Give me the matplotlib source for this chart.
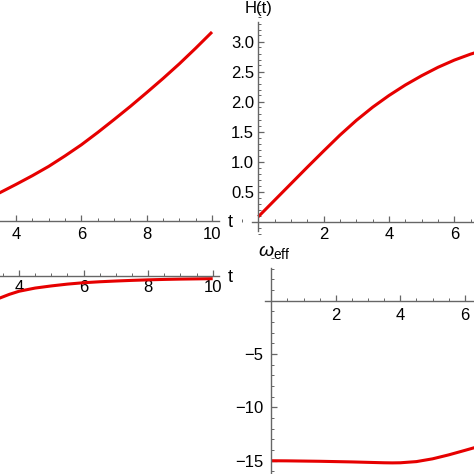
import matplotlib
matplotlib.use("Agg")
import matplotlib.pyplot as plt
from matplotlib.ticker import MultipleLocator, FixedLocator

plt.rcParams['font.family'] = ['Liberation Sans', 'DejaVu Sans']
plt.rcParams['mathtext.fontset'] = 'custom'
plt.rcParams['mathtext.rm'] = 'Liberation Sans'
plt.rcParams['mathtext.it'] = 'Liberation Sans:italic'
plt.rcParams['axes.unicode_minus'] = True

# ---- data ----
t_a = [3.3, 3.5, 4, 4.5, 5, 5.5, 6, 6.5, 7, 7.5, 8, 8.5, 9, 9.5, 10]
a_vals = [0.42, 0.47, 0.61, 0.755, 0.91, 1.085, 1.27, 1.475, 1.69, 1.91,
          2.14, 2.375, 2.62, 2.88, 3.15]

t_H = [0, 0.5, 1, 1.5, 2, 2.5, 3, 3.5, 4, 4.5, 5, 5.5, 6, 6.5, 6.8]
H_vals = [0.08, 0.355, 0.63, 0.905, 1.175, 1.44, 1.685, 1.905, 2.10, 2.275,
          2.43, 2.57, 2.69, 2.79, 2.84]

t_q = [3.2, 3.41, 3.7, 4, 4.5, 5, 5.5, 6, 6.5, 7, 7.5, 8, 8.5, 9, 9.5, 10]
q_vals = [-2.3, -2.06, -1.72, -1.43, -1.13, -0.93, -0.76, -0.63, -0.54,
          -0.47, -0.41, -0.36, -0.32, -0.29, -0.27, -0.25]

t_w = [0, 0.5, 1, 1.5, 2, 2.5, 3, 3.5, 3.75, 4, 4.5, 5, 5.5, 6, 6.5]
w_vals = [-15.0, -15.01, -15.03, -15.05, -15.08, -15.11, -15.15, -15.19,
          -15.2, -15.19, -15.08, -14.82, -14.45, -14.03, -13.6]

x_major = [2, 4, 6, 8, 10]

RED = '#e60000'
AXC = '#666666'
FS = 12
W = H = 474.0

fig = plt.figure(figsize=(4.74, 4.74), dpi=100)


def make_ax(L, R, T, B, x0, sx, y0, sy):
    ax = fig.add_axes([L / W, 1 - B / H, (R - L) / W, (B - T) / H])
    ax.set_facecolor('none')
    ax.set_xlim((L - x0) / sx, (R - x0) / sx)
    ax.set_ylim((y0 - B) / sy, (y0 - T) / sy)
    for s in ('top', 'right'):
        ax.spines[s].set_visible(False)
    for s in ('left', 'bottom'):
        ax.spines[s].set_position(('data', 0))
        ax.spines[s].set_color(AXC)
        ax.spines[s].set_linewidth(1.0)
    ax.tick_params(which='both', direction='in', color=AXC, labelsize=FS)
    ax.tick_params(which='major', length=4, width=0.9)
    ax.tick_params(which='minor', length=2.3, width=0.7)
    ax.xaxis.set_major_locator(FixedLocator(x_major))
    ax.xaxis.set_minor_locator(MultipleLocator(0.5))
    return ax


# top-left
ax1 = make_ax(0, 226, 0, 236, 16 - 4 * 32.67, 32.67, 221, 60)
ax1.plot(t_a, a_vals, color=RED, lw=2.2, solid_capstyle='butt')
ax1.spines['bottom'].set_bounds(-0.2, 10.2)
ax1.spines['left'].set_visible(False)
ax1.set_yticks([])
ax1.tick_params(axis='x', pad=4)
fig.text(228 / W, 1 - 222 / H, 't', fontsize=FS + 1, ha='left', va='center')

# top-right
ax2 = make_ax(240, 474, 0, 236, 258.3, 32.67, 221.5, 60)
ax2.plot(t_H, H_vals, color=RED, lw=2.2, solid_capstyle='butt')
ax2.spines['bottom'].set_bounds(-0.2, 10.2)
ax2.spines['left'].set_bounds(-0.15, 3.33)
ax2.yaxis.set_major_locator(FixedLocator([0.5, 1.0, 1.5, 2.0, 2.5, 3.0]))
ax2.yaxis.set_minor_locator(MultipleLocator(0.1))
ax2.yaxis.set_major_formatter(plt.FuncFormatter(lambda v, p: f'{v:.1f}'))
ax2.tick_params(axis='x', pad=4)
ax2.tick_params(axis='y', pad=3)
fig.text(245 / W, 1 - 12.5 / H, 'H(t)', fontsize=FS, ha='left', va='baseline')

# bottom-left
ax3 = make_ax(0, 226, 240, 474, 212.7 - 10 * 32.28, 32.28, 276, 10.67)
ax3.plot(t_q, q_vals, color=RED, lw=2.2, solid_capstyle='butt')
ax3.spines['bottom'].set_bounds(-0.2, 10.2)
ax3.spines['left'].set_visible(False)
ax3.set_yticks([])
ax3.tick_params(axis='x', pad=3)
fig.text(228 / W, 1 - 277 / H, 't', fontsize=FS + 1, ha='left', va='center')

# bottom-right
ax4 = make_ax(262, 474, 258, 474, 271.3, 32.25, 300.7, 10.67)
ax4.plot(t_w, w_vals, color=RED, lw=2.2, solid_capstyle='butt')
ax4.spines['bottom'].set_bounds(-0.2, 10.2)
ax4.spines['left'].set_bounds(-17, 3.07)
ax4.yaxis.set_major_locator(FixedLocator([-15, -10, -5]))
ax4.yaxis.set_minor_locator(MultipleLocator(1))
ax4.tick_params(axis='x', pad=5)
ax4.tick_params(axis='y', pad=6)
fig.text(258 / W, 1 - 252 / H, r'$\mathit{\omega}_{\mathrm{eff}}$', fontsize=FS + 2,
         ha='left', va='center')

fig.savefig('out.png', dpi=100)
